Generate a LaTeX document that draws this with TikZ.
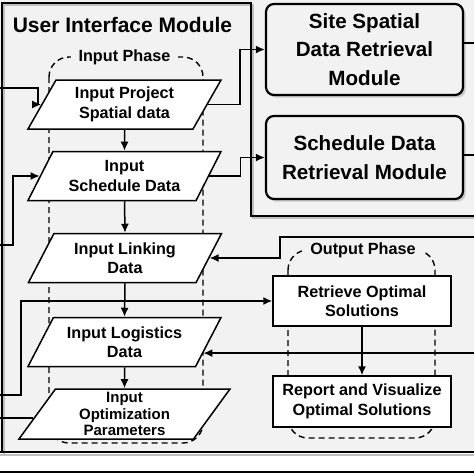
\documentclass[tikz,border=0pt]{standalone}
\usepackage{fontspec}
\setmainfont{Liberation Sans}
\usetikzlibrary{shapes.geometric,arrows.meta,calc}
\definecolor{bg}{HTML}{F2F2F2}
\begin{document}
\begin{tikzpicture}[x=1pt,y=-1pt,
 para/.style={trapezium, trapezium left angle=51, trapezium right angle=129, trapezium stretches body=true, draw, fill=white, line width=1.5pt, minimum width=193pt, minimum height=49pt, inner xsep=0pt, inner ysep=0pt, align=center, font=\fontsize{16.2}{19.5}\selectfont\bfseries},
 modbox/.style={draw, line width=2.2pt, rounded corners=8pt, fill=bg, minimum width=197pt, align=center, font=\fontsize{20.6}{28.5}\selectfont\bfseries},
 stepbox/.style={draw, fill=white, line width=1.5pt, minimum width=178pt, minimum height=50pt, align=center, font=\fontsize{16.2}{19.5}\selectfont\bfseries},
 conn/.style={line width=1.5pt},
 arr/.style={conn, -{Latex[length=9pt,width=8pt]}},
 phase/.style={draw, dash pattern=on 6pt off 4pt, line width=1.4pt, rounded corners=20pt},
 phaselabel/.style={fill=bg, inner xsep=8pt, inner ysep=1pt, font=\fontsize{16.2}{19.5}\selectfont\bfseries}
]
\useasboundingbox (0,0) rectangle (474,474);
\fill[bg] (0,0) rectangle (474,452);
\fill[white] (0,452) rectangle (474,474);

% frame shadows
\draw[line width=2pt, black!25] (4,454) -- (4,5) -- (253,5) -- (253,218) -- (474,218);
\draw[line width=2pt, black!25] (0,454.5) -- (474,454.5);
% frame lines
\draw[line width=2.2pt] (2,452) -- (2,3) -- (251,3) -- (251,216) -- (474,216);
\draw[line width=2.2pt] (0,452) -- (474,452);
\draw[line width=2.2pt] (0,472) -- (474,472);

\node[font=\fontsize{21}{25}\selectfont\bfseries] (title) at (122.5,25) {User Interface Module};

% phases
\draw[phase] (49,57) rectangle (203,443);
\node[phaselabel] (inph) at (124.5,57) {Input Phase};
\draw[phase] (288,250) rectangle (435,438);
\node[phaselabel] (outph) at (363,250) {Output Phase};

% input steps
\node[para] (p1) at (124.5,104.5) {Input Project\\Spatial data};
\node[para] (p2) at (124.5,176) {Input\\Schedule Data};
\node[para] (p3) at (125,258) {Input Linking\\Data};
\node[para] (p4) at (124.5,342) {Input Logistics\\Data};
\node[para, minimum width=211pt, minimum height=50pt, trapezium left angle=50, trapezium right angle=130, font=\fontsize{15}{16.5}\selectfont\bfseries] (p5) at (124.5,414) {Input\\Optimization\\Parameters};

% modules
\fill[black!22, rounded corners=8pt] (268,6) rectangle (465.5,97.5);
\fill[black!22, rounded corners=8pt] (268,118) rectangle (465.5,201.5);
\node[modbox, minimum height=91pt] (site) at (364.5,49.5) {Site Spatial\\Data Retrieval\\Module};
\node[modbox, minimum height=83pt] (sched) at (364.5,157.5) {Schedule Data\\Retrieval Module};

% output steps
\node[stepbox] (ret) at (362,301) {Retrieve Optimal\\Solutions};
\node[stepbox, minimum height=51pt] (rep) at (362,401.5) {Report and Visualize\\Optimal Solutions};

% edge coordinates
\coordinate (W) at (0,0);
\coordinate (E) at (474,0);
\coordinate (L1) at (0,88);
\coordinate (L2) at (0,245);
\coordinate (L3) at (0,395);
\coordinate (R1) at (474,237);

\coordinate (p1l) at ($(p1.bottom left corner)!0.5!(p1.top left corner)$);
\coordinate (p1r) at ($(p1.bottom right corner)!0.5!(p1.top right corner)$);
\coordinate (p2l) at ($(p2.bottom left corner)!0.5!(p2.top left corner)$);
\coordinate (p2r) at ($(p2.bottom right corner)!0.5!(p2.top right corner)$);
\coordinate (p3r) at ($(p3.bottom right corner)!0.5!(p3.top right corner)$);
\coordinate (p4r) at ($(p4.bottom right corner)!0.28!(p4.top right corner)$);
\coordinate (p5l) at ($(p5.bottom left corner)!0.42!(p5.top left corner)$);
\coordinate (siteo) at ($(site.east)+(0,-6.5)$);
\coordinate (schedo) at ($(sched.east)+(0,-2.5)$);

% vertical flow
\draw[arr] (p1.south) -- (p2.north);
\draw[arr] (p2.south) -- (p3.north);
\draw[arr] (p3.south) -- (p4.north);
\draw[arr] (p4.south) -- (p5.north);
\draw[arr] (ret.south) -- (rep.north);

% connectors
\draw[arr] (L1) -- ++(38,0) |- (p1l);
\draw[arr] (L2) -- ++(13,0) |- (p2l);
\draw[arr] (p1r) -- ++(32,0) |- (site.west);
\draw[arr] (p2r) -- ++(31,0) |- (sched.west);
\draw[arr] (L3) -- ++(21,0) |- (ret.west);
\draw[arr] (R1) -- ++(-194,0) |- (p3r);
\draw[arr] (p4r -| E) -- (p4r);
\draw[conn] (p5l) -- (p5l -| W);
\draw[conn] (siteo) -- (siteo -| E);
\draw[conn] (schedo) -- (schedo -| E);
\end{tikzpicture}
\end{document}
